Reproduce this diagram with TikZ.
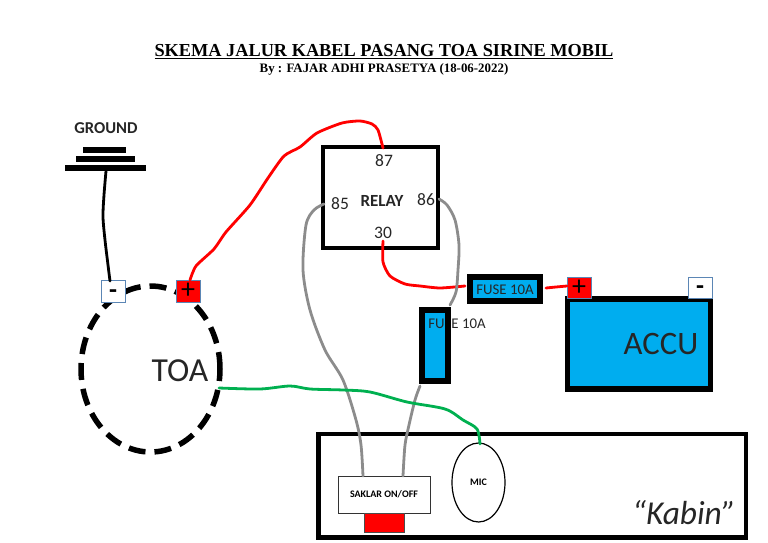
\documentclass[tikz,border=0pt]{standalone}
\usepackage{fontspec}
\setmainfont{Carlito}
\newfontfamily\titlefont{Liberation Serif}
\usetikzlibrary{shapes.geometric}
\definecolor{accublue}{HTML}{00ADEF}
\definecolor{wiregreen}{HTML}{00B050}
\definecolor{wiregrey}{HTML}{8C8C8C}
\definecolor{termedge}{HTML}{5B86B5}
\tikzset{
  lbl/.style={inner sep=0pt,text=black!85},
  pinlbl/.style={lbl,font=\fontsize{17.5}{18}\selectfont},
  fuselbl/.style={lbl,font=\fontsize{14.8}{16}\selectfont},
  termplus/.style={draw=termedge,line width=.8pt,fill=red,minimum width=24pt,minimum height=22pt,inner sep=0pt,font=\fontsize{28}{28}\selectfont},
  termminus/.style={termplus,fill=white,font=\fontsize{26}{26}\selectfont\bfseries},
  wire/.style={line width=2.8pt,line join=round,line cap=round},
  redwire/.style={wire,draw=red},
  greywire/.style={wire,draw=wiregrey},
  greenwire/.style={wire,draw=wiregreen},
  blackwire/.style={wire,draw=black},
  gbar/.style={fill=black,draw=none,inner sep=0pt,minimum height=6pt},
}
\begin{document}
\begin{tikzpicture}[x=1pt,y=-1pt]
\useasboundingbox (0,0) rectangle (768,543);
% titles
\node[inner sep=0pt,font=\titlefont\bfseries\fontsize{18.3}{20}\selectfont] (title) at (384,51.5) {\underline{SKEMA JALUR KABEL PASANG TOA SIRINE MOBIL}};
\node[inner sep=0pt,font=\titlefont\bfseries\fontsize{12.9}{14}\selectfont] (byline) at (384,69) {By : FAJAR ADHI PRASETYA (18-06-2022)};
% ground
\node[lbl,font=\bfseries\fontsize{16.6}{18}\selectfont] (groundlabel) at (106,128) {GROUND};
\node[gbar,minimum width=43pt] (g1) at (104.5,150) {};
\node[gbar,minimum width=59pt] (g2) at (105.5,159) {};
\node[gbar,minimum width=81pt] (g3) at (105.5,168) {};
% TOA
\node[ellipse,draw=black,line width=5.5pt,dash pattern=on 17pt off 9pt,minimum width=139pt,minimum height=166pt,inner sep=0pt] (toa) at (150.5,369) {};
\node[lbl,font=\fontsize{33.6}{35}\selectfont] (toalabel) at (180,371) {TOA};
\node[termminus] (toaminus) at (113,291) {\raisebox{-7pt}[0pt][0pt]{-}};
\node[termplus] (toaplus) at (188,291) {+};
% relay
\node[draw=black,line width=3.3pt,minimum width=115pt,minimum height=101pt,inner sep=0pt] (relay) at (380.5,197.5) {};
\node[pinlbl] (r87) at (384,161) {87};
\node[pinlbl] (r85) at (340,204) {85};
\node[pinlbl] (r86) at (426,200) {86};
\node[pinlbl] (r30) at (383,233) {30};
\node[lbl,font=\bfseries\fontsize{17}{18}\selectfont] (relaylabel) at (382,200.5) {RELAY};
% battery
\node[draw=black,line width=5.5pt,fill=accublue,minimum width=143pt,minimum height=90pt,inner sep=0pt] (accu) at (639,344) {};
\node[lbl,font=\fontsize{32.7}{34}\selectfont] (acculabel) at (661,344.5) {ACCU};
\node[termplus,minimum height=21pt] (accuplus) at (579,287.5) {+};
\node[termminus,minimum height=21pt] (accuminus) at (700,287.5) {\raisebox{-7pt}[0pt][0pt]{-}};
% fuses
\node[draw=black,line width=6pt,fill=accublue,minimum width=70pt,minimum height=24pt,inner sep=0pt] (fuseh) at (505,289) {};
\node[fuselbl] (fusehlabel) at (505,289.5) {FUSE 10A};
\node[fill=accublue,minimum width=26pt,minimum height=71pt,inner sep=0pt] (fusevfill) at (435,345.5) {};
\node[fuselbl] (fusevlabel) at (457,323.5) {FUSE 10A};
\node[draw=black,line width=6pt,minimum width=26pt,minimum height=71pt,inner sep=0pt] (fusev) at (435,345.5) {};
% cabin
\node[draw=black,line width=4.5pt,minimum width=427.5pt,minimum height=103.5pt,inner sep=0pt] (kabin) at (532,485.5) {};
\node[lbl,font=\itshape\fontsize{33.4}{35}\selectfont] (kabinlabel) at (684,513) {“Kabin”};
\node[draw=black!80,line width=1pt,fill=white,minimum width=92pt,minimum height=37pt,inner sep=0pt,font=\bfseries\fontsize{10}{12}\selectfont] (saklar) at (384,494.5) {SAKLAR ON/OFF};
\node[draw=black!70,line width=.8pt,fill=red,minimum width=40pt,minimum height=19pt,inner sep=0pt,anchor=north] (saklarbtn) at (384,513) {};
\node[ellipse,draw=black,line width=1.2pt,fill=white,minimum width=53pt,minimum height=79pt,inner sep=0pt,font=\bfseries\fontsize{10}{12}\selectfont] (mic) at (478.5,482.5) {MIC};
% connector ends
\coordinate (p87) at (383,148);
\coordinate (p30) at (383,241);
\coordinate (p85) at (324,204);
\coordinate (p86) at (439,199);
\coordinate (sak1) at (363,476);
\coordinate (sak2) at (403,476);
\coordinate (toaout) at (219,388);
\coordinate (micin) at (480,444);
\coordinate (gtop) at (106,171);
% wires
\draw[blackwire] plot[smooth,tension=.5] coordinates {(gtop) (104,195) (103,217) (105,240) (108,265) (110,281)};
\draw[redwire] plot[smooth,tension=.4] coordinates {(190,280) (196,266) (214,249) (226,232) (250,205) (268,178) (284,156) (300,147) (317,133) (342,123) (360,121) (372,124) (378,130) (p87)};
\draw[redwire] plot[smooth,tension=.4] coordinates {(p30) (383,262) (390,276) (405,284) (420,286) (440,288) (465,286)};
\draw[redwire] plot[smooth,tension=.4] coordinates {(546,288) (556,287) (567,286)};
\draw[greywire] plot[smooth,tension=.5] coordinates {(p86) (447,205) (455,220) (459,245) (458,270) (456,292) (450,305)};
\draw[greywire] plot[smooth,tension=.5] coordinates {(420,386) (415,400) (409,425) (405,445) (sak2)};
\draw[greywire] plot[smooth,tension=.5] coordinates {(p85) (314,210) (306,225) (303,270) (310,310) (325,350) (343,380) (356,420) (361,445) (sak1)};
\draw[greenwire] plot[smooth,tension=.5] coordinates {(toaout) (260,389) (290,386) (310,389) (343,390) (370,392) (407,402) (445,409) (463,420) (477,429) (micin)};
\end{tikzpicture}
\end{document}
